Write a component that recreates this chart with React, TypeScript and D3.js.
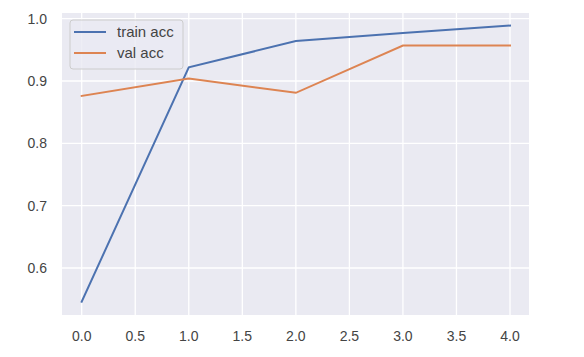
import React from "react";
import * as d3 from "d3";

const epochs = [0, 1, 2, 3, 4];
const trainAcc = [0.546, 0.922, 0.964, 0.977, 0.989];
const valAcc = [0.876, 0.904, 0.881, 0.957, 0.957];
const xTicks = [0, 0.5, 1, 1.5, 2, 2.5, 3, 3.5, 4];
const yTicks = [0.6, 0.7, 0.8, 0.9, 1.0];
const seriesNames = ["train acc", "val acc"];
const colors = ["#4C72B0", "#DD8452"];

export default function App() {
  const W = 584, H = 357;
  const left = 62, right = 529, top = 13, bottom = 315;
  const x = d3.scaleLinear().domain([0, 4]).range([81.7, 510]);
  const y = d3.scaleLinear().domain([0.6, 0.9]).range([268, 81]);
  const line = d3.line<number>().x((_, i) => x(epochs[i])).y((d) => y(d));
  const font = "'Liberation Sans', Arial, sans-serif";
  const series = [trainAcc, valAcc];
  return (
    <svg width={W} height={H} style={{ position: "absolute", left: 0, top: 0 }}>
      <rect x={0} y={0} width={W} height={H} fill="#fff" />
      <rect x={left} y={top} width={right - left} height={bottom - top} fill="#EAEAF2" />
      {xTicks.map((t) => (
        <line key={"gx" + t} x1={x(t)} x2={x(t)} y1={top} y2={bottom} stroke="#fff" strokeWidth={1.3} />
      ))}
      {yTicks.map((t) => (
        <line key={"gy" + t} x1={left} x2={right} y1={y(t)} y2={y(t)} stroke="#fff" strokeWidth={1.3} />
      ))}
      {series.map((s, i) => (
        <path key={i} d={line(s) || ""} fill="none" stroke={colors[i]} strokeWidth={2} strokeLinecap="square" />
      ))}
      {xTicks.map((t) => (
        <text key={"tx" + t} x={x(t)} y={341} textAnchor="middle" fontFamily={font} fontSize={14} fill="#444">
          {t.toFixed(1)}
        </text>
      ))}
      {yTicks.map((t) => (
        <text key={"ty" + t} x={47} y={y(t) + 5} textAnchor="end" fontFamily={font} fontSize={14} fill="#444">
          {t.toFixed(1)}
        </text>
      ))}
      <g>
        <rect x={70} y={20} width={113} height={49} rx={3} fill="#EAEAF2" fillOpacity={0.8} stroke="#ccc" strokeWidth={1} />
        {seriesNames.map((n, i) => (
          <g key={n}>
            <line x1={74} x2={106} y1={32 + i * 21} y2={32 + i * 21} stroke={colors[i]} strokeWidth={2} />
            <text x={117} y={37 + i * 21} fontFamily={font} fontSize={15} fill="#444">
              {n}
            </text>
          </g>
        ))}
      </g>
    </svg>
  );
}
